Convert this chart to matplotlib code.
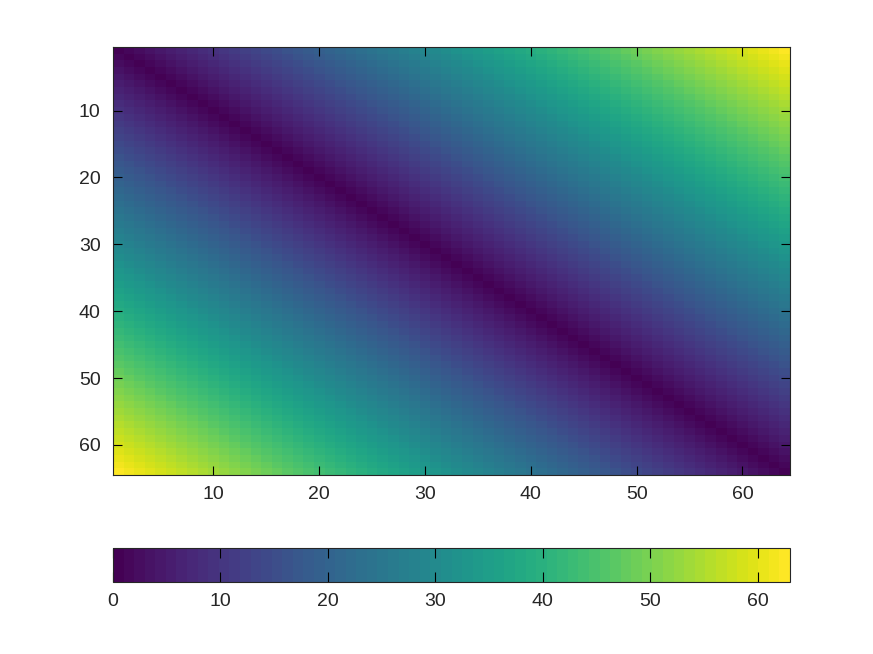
import numpy as np
import matplotlib
matplotlib.use("Agg")
import matplotlib.pyplot as plt

# distance of each cell from the diagonal (first row of the Toeplitz matrix)
first_row = [0, 1, 2, 3, 4, 5, 6, 7, 8, 9, 10, 11, 12, 13, 14, 15,
             16, 17, 18, 19, 20, 21, 22, 23, 24, 25, 26, 27, 28, 29, 30, 31,
             32, 33, 34, 35, 36, 37, 38, 39, 40, 41, 42, 43, 44, 45, 46, 47,
             48, 49, 50, 51, 52, 53, 54, 55, 56, 57, 58, 59, 60, 61, 62, 63]
axis_ticks = [10, 20, 30, 40, 50, 60]
cbar_ticks = [0, 10, 20, 30, 40, 50, 60]

n = len(first_row)
idx = np.arange(n)
data = np.array(first_row)[np.abs(idx[:, None] - idx[None, :])]

plt.rcParams['font.family'] = ['Liberation Sans', 'DejaVu Sans']
plt.rcParams['font.size'] = 14
txt = '#262626'

fig = plt.figure(figsize=(8.73, 6.54), dpi=100)
ax = fig.add_axes([113/873, 1-475/654, (790-113)/873, (475-47)/654])
cax = fig.add_axes([113/873, 1-582/654, (790-113)/873, (582-548)/654])

cmap = plt.get_cmap('viridis', 64)
im = ax.imshow(data, cmap=cmap, vmin=min(first_row), vmax=max(first_row),
               extent=(0.5, n + 0.5, n + 0.5, 0.5), aspect='auto',
               interpolation='nearest')
ax.set_xticks(axis_ticks)
ax.set_yticks(axis_ticks)
ax.tick_params(direction='in', length=6.5, width=0.8, color='black',
               top=True, right=True, labelcolor=txt, labelsize=14)
ax.tick_params(axis='x', pad=8)
ax.tick_params(axis='y', pad=9)
for s in ax.spines.values():
    s.set_color(txt)
    s.set_linewidth(0.8)

cb = fig.colorbar(im, cax=cax, orientation='horizontal')
cb.set_ticks(cbar_ticks)
cax.tick_params(direction='in', length=7, width=0.8, color='black',
                top=True, bottom=True, labelcolor=txt, labelsize=14, pad=8)
cb.outline.set_edgecolor(txt)
cb.outline.set_linewidth(0.8)

fig.savefig('out.png', dpi=100)
